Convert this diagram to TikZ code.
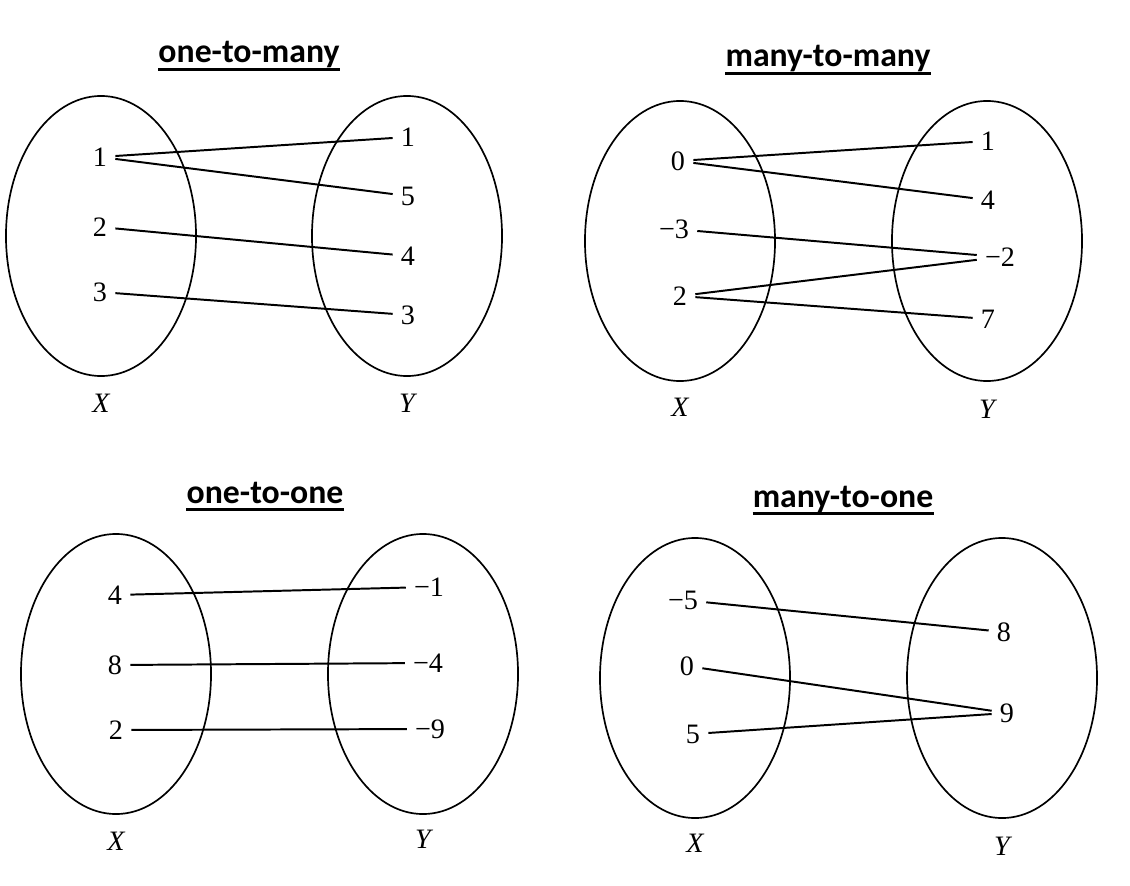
\documentclass[tikz,border=0pt]{standalone}
\usepackage{fontspec}
\setmainfont{Liberation Serif}
\usetikzlibrary{positioning, shapes.geometric}
\newfontfamily\headfont{Carlito}

\begin{document}
\begin{tikzpicture}[x=0.025cm, y=-0.025cm]
	\tikzset{setshape/.style={ellipse, draw, line width=1.2pt, minimum width=4.75cm, minimum height=7cm, inner sep=0pt},
		elem/.style={font=\fontsize{20}{24}\selectfont, inner xsep=0.2cm, inner ysep=0pt},
		setname/.style={font=\fontsize{20}{24}\selectfont\itshape, inner sep=0pt},
		heading/.style={font=\headfont\bfseries\fontsize{24}{28}\selectfont, inner sep=0pt, anchor=base},
		uline/.style={line width=2.1pt},
		link/.style={line width=1.4pt}}

	\useasboundingbox (0,0) rectangle (1130,886);

	% one-to-many
	\node[heading] (ta) at (249,63) {one-to-many};
	\draw[uline] ([yshift=-0.16cm]ta.base west) -- ([yshift=-0.16cm]ta.base east);
	\node[setshape] (aX) at (101,236) {};
	\node[setshape] (aY) at (407,236) {};
	\node[setname, below=0.42cm of aX] (aXl) {X};
	\node[setname, below=0.42cm of aY] (aYl) {Y};
	\node[elem] (ax1) at (100,157) {1};
	\node[elem] (ax2) at (100,227) {2};
	\node[elem] (ax3) at (100,292) {3};
	\node[elem] (ay1) at (408,137) {1};
	\node[elem] (ay2) at (408,196) {5};
	\node[elem] (ay3) at (408,256) {4};
	\node[elem] (ay4) at (408,315) {3};
	\draw[link]
		(ax1) edge (ay1)
		(ax1) edge (ay2)
		(ax2) edge (ay3)
		(ax3) edge (ay4);

	% many-to-many
	\node[heading] (tb) at (828,67) {many-to-many};
	\draw[uline] ([yshift=-0.16cm]tb.base west) -- ([yshift=-0.16cm]tb.base east);
	\node[setshape] (bX) at (680,241) {};
	\node[setshape] (bY) at (987,241) {};
	\node[setname, below=0.4cm of bX] (bXl) {X};
	\node[setname, below=0.45cm of bY] (bYl) {Y};
	\node[elem] (bx1) at (678,161) {0};
	\node[elem] (bx2) at (674,229) {−3};
	\node[elem] (bx3) at (680,296) {2};
	\node[elem] (by1) at (988,141) {1};
	\node[elem] (by2) at (988,200) {4};
	\node[elem] (by3) at (1000,257) {−2};
	\node[elem] (by4) at (988,319) {7};
	\draw[link]
		(bx1) edge (by1)
		(bx1) edge (by2)
		(bx2) edge (by3)
		(bx3) edge (by3)
		(bx3) edge (by4);

	% one-to-one
	\node[heading] (tc) at (265,503) {one-to-one};
	\draw[uline] ([yshift=-0.16cm]tc.base west) -- ([yshift=-0.16cm]tc.base east);
	\node[setshape] (cX) at (116,674) {};
	\node[setshape] (cY) at (423,674) {};
	\node[setname, below=0.42cm of cX] (cXl) {X};
	\node[setname, below=0.38cm of cY] (cYl) {Y};
	\node[elem] (cx1) at (115,595) {4};
	\node[elem] (cx2) at (115,665) {8};
	\node[elem] (cx3) at (116,730) {2};
	\node[elem] (cy1) at (429,587) {−1};
	\node[elem] (cy2) at (428,663) {−4};
	\node[elem] (cy3) at (430,729) {−9};
	\draw[link]
		(cx1) edge (cy1)
		(cx2) edge (cy2)
		(cx3) edge (cy3);

	% many-to-one
	\node[heading] (td) at (843,507) {many-to-one};
	\draw[uline] ([yshift=-0.16cm]td.base west) -- ([yshift=-0.16cm]td.base east);
	\node[setshape] (dX) at (695,678) {};
	\node[setshape] (dY) at (1002,678) {};
	\node[setname, below=0.38cm of dX] (dXl) {X};
	\node[setname, below=0.45cm of dY] (dYl) {Y};
	\node[elem] (dx1) at (683,600) {−5};
	\node[elem] (dx2) at (687,666) {0};
	\node[elem] (dx3) at (693,734) {5};
	\node[elem] (dy1) at (1004,632) {8};
	\node[elem] (dy2) at (1007,713) {9};
	\draw[link]
		(dx1) edge (dy1)
		(dx2) edge (dy2)
		(dx3) edge (dy2);
\end{tikzpicture}
\end{document}
